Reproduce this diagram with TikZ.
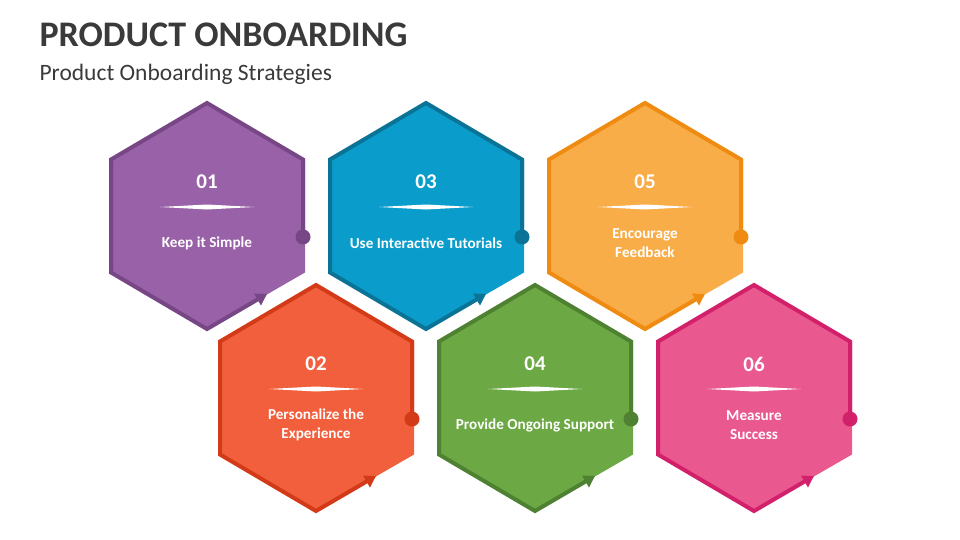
\documentclass[tikz,border=0pt]{standalone}
\usepackage{fontspec}
\setmainfont{Carlito}
\usetikzlibrary{arrows.meta}
\definecolor{pF}{HTML}{9961A8}\definecolor{pB}{HTML}{774785}
\definecolor{bF}{HTML}{0A9DCB}\definecolor{bB}{HTML}{0B7396}
\definecolor{oF}{HTML}{F8AD49}\definecolor{oB}{HTML}{EE8B10}
\definecolor{rF}{HTML}{F15F3D}\definecolor{rB}{HTML}{D33A18}
\definecolor{gF}{HTML}{6CA843}\definecolor{gB}{HTML}{4E8131}
\definecolor{kF}{HTML}{E9588F}\definecolor{kB}{HTML}{D2206A}
\definecolor{ttl}{HTML}{3A3A3A}
\tikzset{numtxt/.style={text=white,font=\bfseries\fontsize{21}{22}\selectfont},
lbltxt/.style={text=white,font=\bfseries\fontsize{15.2}{19}\selectfont,align=center}}
\newcommand{\hexa}[6]{%
\begin{scope}[shift={(#1,#2)}]
\fill[#3] (0,-113)--(98,-56.5)--(98,56.5)--(0,113)--(-98,56.5)--(-98,-56.5)--cycle;
\draw[#4,line width=4pt,line join=miter,-{Triangle[length=11pt,width=13pt]}] (96,21)--(96,-56.5)--(0,-113)--(-96,-56.5)--(-96,56.5)--(0,113)--(60,78);
\fill[#4] (96,21) circle (7.5);
\node[numtxt] (n#5) at (0,-34) {#5};
\fill[white] (-47,-9)--(0,-11.5)--(47,-9)--(0,-6.5)--cycle;
\node[lbltxt] (l#5) at (0,27) {#6};
\end{scope}}
\begin{document}
\begin{tikzpicture}[x=1pt,y=-1pt]
\useasboundingbox (0,0) rectangle (960,540);
\node[anchor=west,text=ttl,font=\bfseries\fontsize{36}{38}\selectfont] (title) at (36,35) {PRODUCT ONBOARDING};
\node[anchor=west,text=ttl,font=\fontsize{23.5}{25}\selectfont] (sub) at (36,74) {Product Onboarding Strategies};
\hexa{207}{216}{pF}{pB}{01}{Keep it Simple}
\hexa{426}{216}{bF}{bB}{03}{Use Interactive Tutorials}
\hexa{645}{216}{oF}{oB}{05}{Encourage\\Feedback}
\hexa{316}{398}{rF}{rB}{02}{Personalize the\\Experience}
\hexa{535}{398}{gF}{gB}{04}{Provide Ongoing Support}
\hexa{754}{398}{kF}{kB}{06}{Measure\\Success}
\end{tikzpicture}
\end{document}
